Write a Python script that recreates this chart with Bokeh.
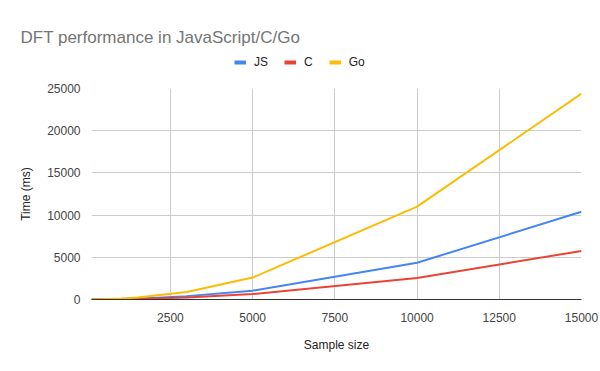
from bokeh.plotting import figure
from bokeh.models import Range1d, Label, Legend, LegendItem, FixedTicker
from bokeh.embed import file_html
from bokeh.resources import INLINE

title = "DFT performance in JavaScript/C/Go"
sample_size = [100, 1000, 1500, 3000, 5000, 10000, 15000]
series_names = ["JS", "C", "Go"]
js_ms = [0, 50, 100, 400, 1050, 4350, 10400]
c_ms = [0, 30, 60, 230, 650, 2550, 5750]
go_ms = [0, 120, 250, 900, 2600, 11000, 24400]
x_ticks = [2500, 5000, 7500, 10000, 12500, 15000]
y_ticks = [0, 5000, 10000, 15000, 20000, 25000]
colors = ["#4285F4", "#EA4335", "#FBBC04"]
FONT = "Liberation Sans"

TOP_H = 80

# ---- header (title + legend) ----
h = figure(width=600, height=TOP_H, output_backend="svg", toolbar_location=None,
           x_range=Range1d(0, 600), y_range=Range1d(TOP_H, 0),
           min_border=0, min_border_left=0, min_border_right=0,
           min_border_top=0, min_border_bottom=0,
           x_axis_type=None, y_axis_type=None)
h.outline_line_color = None
h.grid.visible = False
h.add_layout(Label(x=20, y=36.5, text=title, text_font=FONT, text_font_size="17px",
                   text_color="#757575", text_baseline="alphabetic", text_align="left"))

items = []
for name, col in zip(series_names, colors):
    dummy = h.line([float("nan")], [float("nan")], line_color=col, line_width=4)
    items.append(LegendItem(label=name, renderers=[dummy]))
legend = Legend(items=items, orientation="horizontal", location=(234, TOP_H - 69),
                padding=0, margin=0, spacing=16, label_standoff=8,
                glyph_width=12, glyph_height=14, label_height=14, label_width=0,
                label_text_font=FONT, label_text_font_size="12px",
                label_text_color="#222222", border_line_color=None,
                background_fill_alpha=0)
h.add_layout(legend, "center")

# ---- main chart ----
p = figure(width=600, height=371 - TOP_H, output_backend="svg", toolbar_location=None,
           x_range=Range1d(100, 15000), y_range=Range1d(0, 25000),
           min_border_left=91, min_border_right=19, min_border_top=88 - TOP_H,
           min_border_bottom=72)
p.outline_line_color = None

for ax in (p.xaxis, p.yaxis):
    ax.major_tick_line_color = None
    ax.minor_tick_line_color = None
    ax.major_label_text_font = FONT
    ax.major_label_text_font_size = "12px"
    ax.major_label_text_color = "#444444"
    ax.axis_label_text_font = FONT
    ax.axis_label_text_font_size = "12px"
    ax.axis_label_text_font_style = "normal"
    ax.axis_label_text_color = "#222222"
p.xaxis.axis_line_color = "#333333"
p.yaxis.axis_line_color = None
p.xaxis.ticker = FixedTicker(ticks=x_ticks)
p.yaxis.ticker = FixedTicker(ticks=y_ticks)
p.xaxis.major_label_standoff = 7
p.yaxis.major_label_standoff = 5
p.xaxis.axis_label = "Sample size"
p.yaxis.axis_label = "Time (ms)"
p.xaxis.axis_label_standoff = 13
p.yaxis.axis_label_standoff = 11
p.xgrid.grid_line_color = "#cccccc"
p.ygrid.grid_line_color = "#cccccc"
p.xgrid.ticker = FixedTicker(ticks=x_ticks)
p.ygrid.ticker = FixedTicker(ticks=y_ticks)

series = [js_ms, c_ms, go_ms]
for name, vals, col in zip(series_names, series, colors):
    p.line(sample_size, vals, line_color=col, line_width=2)

open("out.html", "w").write(file_html([h, p], INLINE))
